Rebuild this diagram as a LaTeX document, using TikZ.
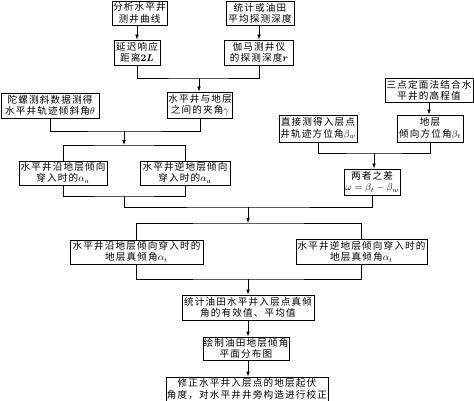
\documentclass[tikz,border=0pt]{standalone}
\usepackage{fontspec}
\usepackage{bm}
\newfontfamily\cjk[LetterSpace=12]{Noto Sans CJK SC}
\usetikzlibrary{arrows.meta}
\begin{document}
\begin{tikzpicture}[x=1pt,y=-1pt,
  box/.style={draw, line width=0.7pt, inner sep=0.5pt, align=center,
    font=\cjk\fontsize{9.6}{11.2}\selectfont},
  conn/.style={line width=0.7pt},
  arr/.style={line width=0.7pt, -{Latex[length=5pt,width=3.6pt]}}]
\useasboundingbox (0,0) rectangle (474,401);
% boxes
\node[box, minimum width=55pt, minimum height=24pt] (b1) at (139.5,13) {分析水平井\\测井曲线};
\node[box, minimum width=46pt, minimum height=25pt] (b2) at (137,52.5) {延迟响应\\距离$\bm{2L}$};
\node[box, minimum width=68pt, minimum height=24pt] (b3) at (260,13) {统计或油田\\平均探测深度};
\node[box, minimum width=69pt, minimum height=25pt] (b4) at (259,52.5) {伽马测井仪\\的探测深度$\bm{r}$};
\node[box, minimum width=98pt, minimum height=25pt] (b5) at (50,105.5) {陀螺测斜数据测得\\水平井轨迹倾斜角$\theta$};
\node[box, minimum width=65pt, minimum height=26pt] (b6) at (200,105) {水平井与地层\\之间的夹角$\gamma$};
\node[box, minimum width=88pt, minimum height=24pt] (b7) at (63,173) {水平井沿地层倾向\\穿入时的$\alpha_a$};
\node[box, minimum width=90pt, minimum height=24pt] (b8) at (185,173) {水平井逆地层倾向\\穿入时的$\alpha_a$};
\node[box, minimum width=78pt, minimum height=27pt] (b9) at (318,128.5) {直接测得入层点\\井轨迹方位角$\beta_w$};
\node[box, minimum width=88pt, minimum height=24pt] (b10) at (429,90) {三点定面法结合水\\平井的高程值};
\node[box, minimum width=66pt, minimum height=27pt] (b11) at (430,128.5) {地层\\倾向方位角$\beta_t$};
\node[box, minimum width=56pt, minimum height=26pt] (b12) at (372,182) {两者之差\\$\omega=\beta_t-\beta_w$};
\node[box, minimum width=133pt, minimum height=24pt] (b13) at (136.5,252) {水平井沿地层倾向穿入时的\\地层真倾角$\alpha_t$};
\node[box, minimum width=131pt, minimum height=25pt] (b14) at (361.5,252) {水平井逆地层倾向穿入时的\\地层真倾角$\alpha_t$};
\node[box, minimum width=132pt, minimum height=25pt] (b15) at (248,307.5) {统计油田水平井入层点真倾\\角的有效值、平均值};
\node[box, minimum width=83pt, minimum height=23pt] (b16) at (246,348.5) {绘制油田地层倾角\\平面分布图};
\node[box, minimum width=162pt, minimum height=24pt] (b17) at (247,389) {修正水平井入层点的地层起伏\\角度，对水平井井旁构造进行校正};
% junction points
\coordinate (j1) at (199,78);
\coordinate (j2) at (124,131);
\coordinate (j3) at (124,145);
\coordinate (j4) at (124,196);
\coordinate (j5) at (248,207);
\coordinate (j6) at (248,223);
\coordinate (j7) at (374,153);
\coordinate (j8) at (248,279);
% connectors
\draw[arr] (b1.south -| b2.north) -- (b2.north);
\draw[arr] (b3.south -| b4.north) -- (b4.north);
\draw[conn] (b2.south) |- (j1) -| (b4.south);
\draw[arr] (j1) -- (j1 |- b6.north);
\draw[conn] (b5.south) |- (j2) -| (b6.south);
\draw[arr] (j2) -- (j3);
\draw[conn] (b7.north) |- (j3) -| (b8.north);
\draw[conn] (b7.south) |- (j4) -| (b8.south);
\draw[arr] (b10.south) -- (b10.south |- b11.north);
\draw[conn] (b9.south) |- (j7) -| (b11.south);
\draw[arr] (j7) -- (j7 |- b12.north);
\draw[conn] (j4) |- (j5) -| (b12.south);
\draw[arr] (j5) -- (j6);
\draw[conn] (b13.north) |- (j6) -| (b14.north);
\draw[conn] (b13.south) |- (j8) -| (b14.south);
\draw[arr] (j8) -- (j8 |- b15.north);
\draw[arr] (b15.south -| j8) -- (j8 |- b16.north);
\draw[arr] (b16.south -| j8) -- (j8 |- b17.north);
\end{tikzpicture}
\end{document}
